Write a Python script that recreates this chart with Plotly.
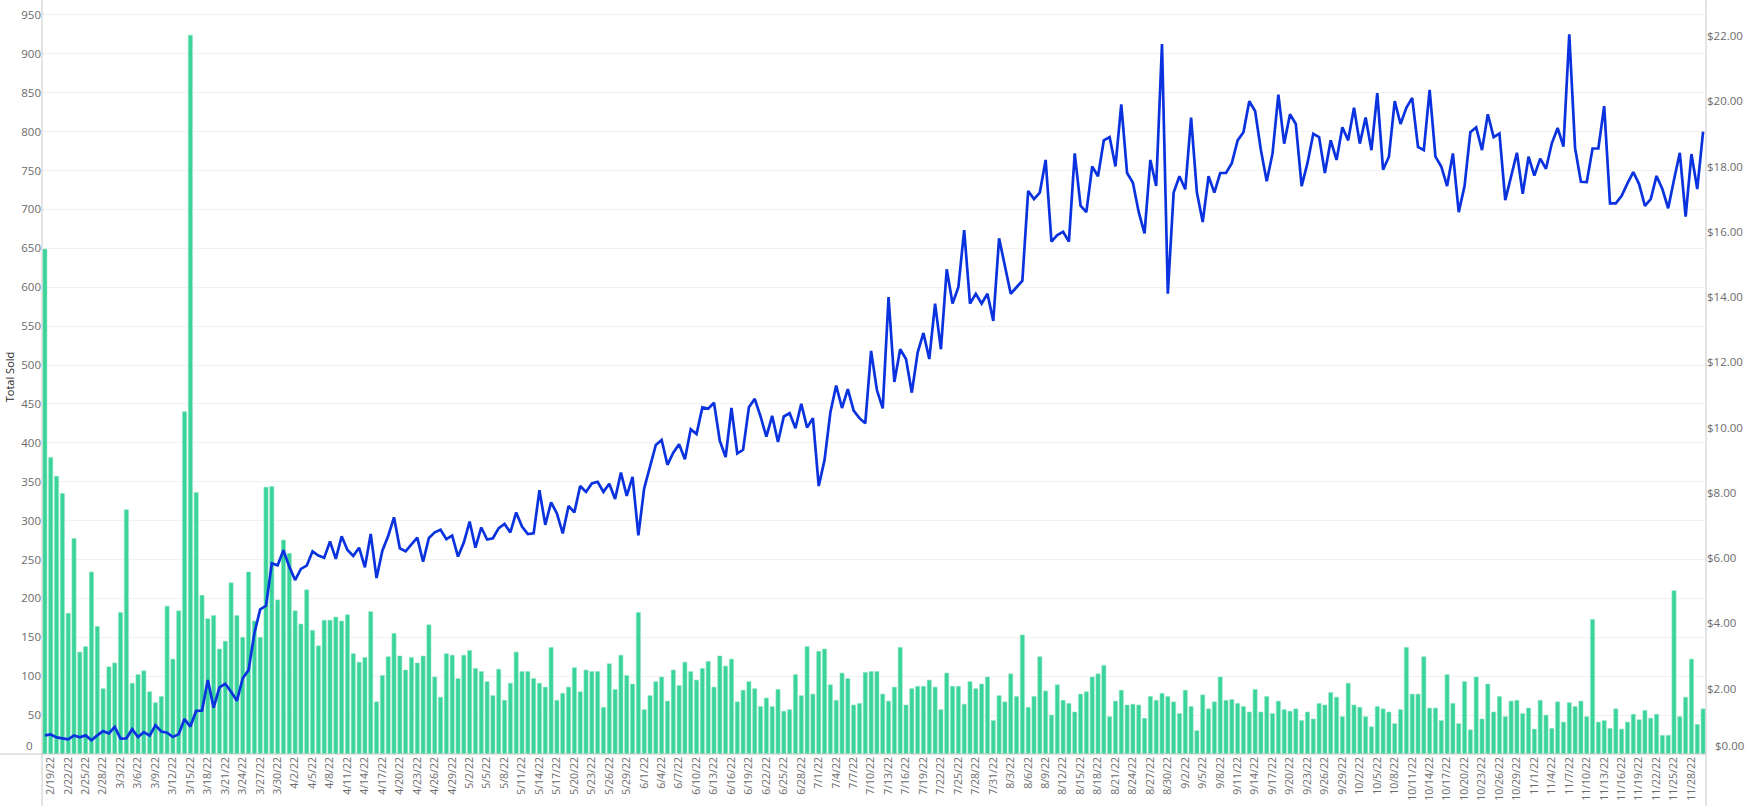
import pandas as pd
import plotly.graph_objects as go

# ---- data -------------------------------------------------------------
dates = pd.date_range("2022-02-18", "2022-11-30", freq="D")
day_labels = [f"{d.month}/{d.day}/{d.strftime('%y')}" for d in dates]

total_sold = [
    649, 381, 357, 335, 181, 277, 131, 138, 234, 164, 84, 112, 117, 182, 314, 91, 102, 107,
    80, 66, 74, 190, 122, 184, 440, 924, 336, 204, 174, 178, 135, 145, 220, 178, 150, 234,
    171, 150, 343, 344, 198, 275, 258, 184, 167, 211, 159, 139, 172, 172, 176, 171, 179, 129,
    118, 124, 183, 67, 101, 125, 155, 126, 108, 124, 117, 126, 166, 99, 73, 129, 127, 97,
    127, 133, 110, 106, 93, 75, 109, 69, 91, 131, 106, 106, 97, 91, 86, 137, 69, 78,
    86, 111, 80, 108, 106, 106, 60, 116, 83, 127, 101, 90, 182, 57, 75, 93, 99, 68,
    108, 88, 118, 106, 95, 110, 119, 86, 126, 113, 122, 67, 82, 93, 84, 61, 72, 61,
    83, 55, 57, 102, 75, 138, 77, 132, 135, 89, 69, 104, 97, 63, 65, 105, 106, 106,
    77, 68, 86, 137, 63, 84, 87, 87, 95, 86, 57, 104, 87, 87, 64, 93, 84, 90,
    99, 43, 75, 67, 103, 74, 153, 60, 74, 125, 81, 50, 89, 69, 65, 54, 77, 80,
    99, 103, 114, 48, 68, 82, 63, 64, 63, 46, 74, 69, 78, 74, 67, 52, 82, 61,
    30, 76, 58, 67, 99, 69, 70, 65, 61, 54, 83, 54, 74, 52, 68, 57, 55, 58,
    43, 54, 45, 65, 63, 79, 73, 48, 91, 63, 60, 48, 35, 61, 58, 54, 39, 57,
    137, 77, 77, 125, 59, 59, 43, 102, 65, 39, 93, 31, 99, 45, 90, 54, 74, 48,
    68, 69, 52, 59, 32, 69, 50, 33, 67, 41, 66, 61, 68, 48, 173, 41, 43, 33,
    58, 32, 41, 51, 44, 56, 46, 51, 24, 24, 210, 48, 73, 122, 38, 58,
]

avg_price = [
    0.57, 0.60, 0.51, 0.49, 0.45, 0.57, 0.51, 0.57, 0.42, 0.57, 0.70, 0.63, 0.83, 0.47, 0.48, 0.76, 0.52, 0.67,
    0.56, 0.88, 0.69, 0.65, 0.52, 0.61, 1.07, 0.84, 1.32, 1.33, 2.27, 1.42, 2.04, 2.15, 1.91, 1.63, 2.32, 2.57,
    3.70, 4.43, 4.54, 5.84, 5.78, 6.24, 5.74, 5.33, 5.67, 5.77, 6.21, 6.08, 6.01, 6.51, 5.98, 6.67, 6.25, 6.07,
    6.32, 5.72, 6.74, 5.39, 6.23, 6.68, 7.25, 6.30, 6.21, 6.42, 6.63, 5.89, 6.62, 6.79, 6.87, 6.58, 6.69, 6.05,
    6.48, 7.12, 6.32, 6.94, 6.57, 6.61, 6.92, 7.05, 6.79, 7.40, 6.97, 6.74, 6.76, 8.08, 7.02, 7.71, 7.37, 6.76,
    7.60, 7.40, 8.21, 8.03, 8.29, 8.34, 8.03, 8.28, 7.81, 8.62, 7.91, 8.49, 6.70, 8.14, 8.80, 9.47, 9.62, 8.86,
    9.23, 9.49, 9.03, 9.95, 9.80, 10.62, 10.58, 10.76, 9.59, 9.10, 10.60, 9.21, 9.32, 10.62, 10.88, 10.34, 9.72, 10.36,
    9.56, 10.34, 10.44, 9.98, 10.73, 10.00, 10.29, 8.21, 9.01, 10.46, 11.29, 10.60, 11.18, 10.52, 10.29, 10.13,
    12.35, 11.15, 10.59, 14.0, 11.4, 12.4, 12.1, 11.07, 12.3, 12.9, 12.1, 13.8, 12.4, 14.85, 13.8, 14.3, 16.05, 13.8,
    14.1, 13.8, 14.1, 13.27, 15.8, 15.0, 14.1, 14.3, 14.5, 17.25, 17.0, 17.2, 18.2, 15.7, 15.9, 16.0, 15.7, 18.4,
    16.8, 16.6, 18.0, 17.7, 18.8, 18.9, 18.0, 19.9, 17.8, 17.5, 16.6, 15.95, 18.2, 17.4, 21.75, 14.1, 17.2, 17.7,
    17.3, 19.5, 17.2, 16.3, 17.7, 17.2, 17.8, 17.8, 18.1, 18.8, 19.05, 20.0, 19.7, 18.5, 17.55, 18.4, 20.2, 18.7,
    19.6, 19.3, 17.4, 18.1, 19.0, 18.9, 17.8, 18.8, 18.2, 19.2, 18.8, 19.8, 18.7, 19.5, 18.5, 20.25, 17.9, 18.3,
    20.0, 19.3, 19.8, 20.1, 18.6, 18.5, 20.35, 18.3, 18.0, 17.4, 18.4, 16.6, 17.4, 19.05, 19.2, 18.5, 19.6, 18.9,
    19.01, 16.97, 17.69, 18.42, 17.16, 18.30, 17.72, 18.24, 17.93, 18.71, 19.18, 18.61, 22.05, 18.56, 17.53, 17.52, 18.55, 18.55,
    19.85, 16.87, 16.87, 17.10, 17.48, 17.83, 17.46, 16.79, 17.00, 17.71, 17.31, 16.72, 17.59, 18.42, 16.46, 18.38, 17.31, 19.07,
]

x_tick_labels = day_labels[1::3]
left_ticks = list(range(0, 951, 50))
left_text = [""] + [str(v) for v in left_ticks[1:]]
right_ticks = list(range(0, 23, 2))
right_text = [""] + [f"${v:.2f}" for v in right_ticks[1:]]

# ---- figure -----------------------------------------------------------
BAR = "#3AD49A"
LINE = "#0A33DF"
FONT = "Open Sans, Lato, sans-serif"
TICK_COLOR = "#6b6b6b"

fig = go.Figure()
fig.add_trace(go.Bar(
    x=day_labels, y=total_sold, name="Total Sold",
    marker=dict(color=BAR, line=dict(color="#8BE6C2", width=0.6)),
    yaxis="y",
))
fig.add_trace(go.Scatter(
    x=day_labels, y=avg_price, name="Avg Price", mode="lines",
    line=dict(color=LINE, width=2.7), yaxis="y2",
))

W, H = 1759, 811
ML, MR, MT, MB = 42, 53, 0, 57
pw, ph = W - ML - MR, H - MT - MB

fig.update_layout(
    width=W, height=H,
    margin=dict(l=ML, r=MR, t=MT, b=MB, pad=0),
    paper_bgcolor="white", plot_bgcolor="white",
    showlegend=False, bargap=0.29,
    font=dict(family=FONT, size=11, color=TICK_COLOR),
    xaxis=dict(
        type="category", categoryorder="array", categoryarray=day_labels,
        tickmode="array", tickvals=x_tick_labels, ticktext=x_tick_labels,
        tickangle=-90, tickfont=dict(family=FONT, size=10.5, color=TICK_COLOR),
        showgrid=False, showline=False, zeroline=False, ticks="",
        automargin=False, range=[-0.5, len(day_labels) - 0.5],
    ),
    yaxis=dict(
        range=[0, 969.2], tickmode="array", tickvals=left_ticks, ticktext=left_text,
        showgrid=True, gridcolor="#f1f1f1", gridwidth=1,
        zeroline=False, showline=False, ticks="",
        tickfont=dict(family=FONT, size=11.5, color=TICK_COLOR),
        title=dict(text="Total Sold", standoff=4,
                   font=dict(family=FONT, size=11, color="#2b2b2b")),
        automargin=False,
    ),
    yaxis2=dict(
        overlaying="y", side="right", range=[0, 23.1],
        tickmode="array", tickvals=right_ticks, ticktext=right_text,
        showgrid=False, zeroline=False, showline=False, ticks="",
        tickfont=dict(family=FONT, size=11.5, color=TICK_COLOR),
        automargin=False,
    ),
    shapes=[
        dict(type="line", xref="paper", yref="paper", x0=0, x1=0, y0=1, y1=-52 / ph,
             line=dict(color="#c8c8c8", width=1)),
        dict(type="line", xref="paper", yref="paper", x0=1, x1=1, y0=1, y1=-52 / ph,
             line=dict(color="#c8c8c8", width=1)),
        dict(type="line", xref="paper", yref="paper", x0=-ML / pw, x1=1, y0=0, y1=0,
             line=dict(color="#c8c8c8", width=1)),
    ],
    annotations=[
        dict(text="0", xref="paper", yref="paper", x=0, y=0, xanchor="right", yanchor="middle",
             xshift=-7, yshift=9, showarrow=False,
             font=dict(family=FONT, size=11.5, color=TICK_COLOR)),
        dict(text="$0.00", xref="paper", yref="paper", x=1, y=0, xanchor="left", yanchor="middle",
             xshift=7, yshift=9, showarrow=False,
             font=dict(family=FONT, size=11.5, color=TICK_COLOR)),
    ],
)

fig.write_html("out.html")
